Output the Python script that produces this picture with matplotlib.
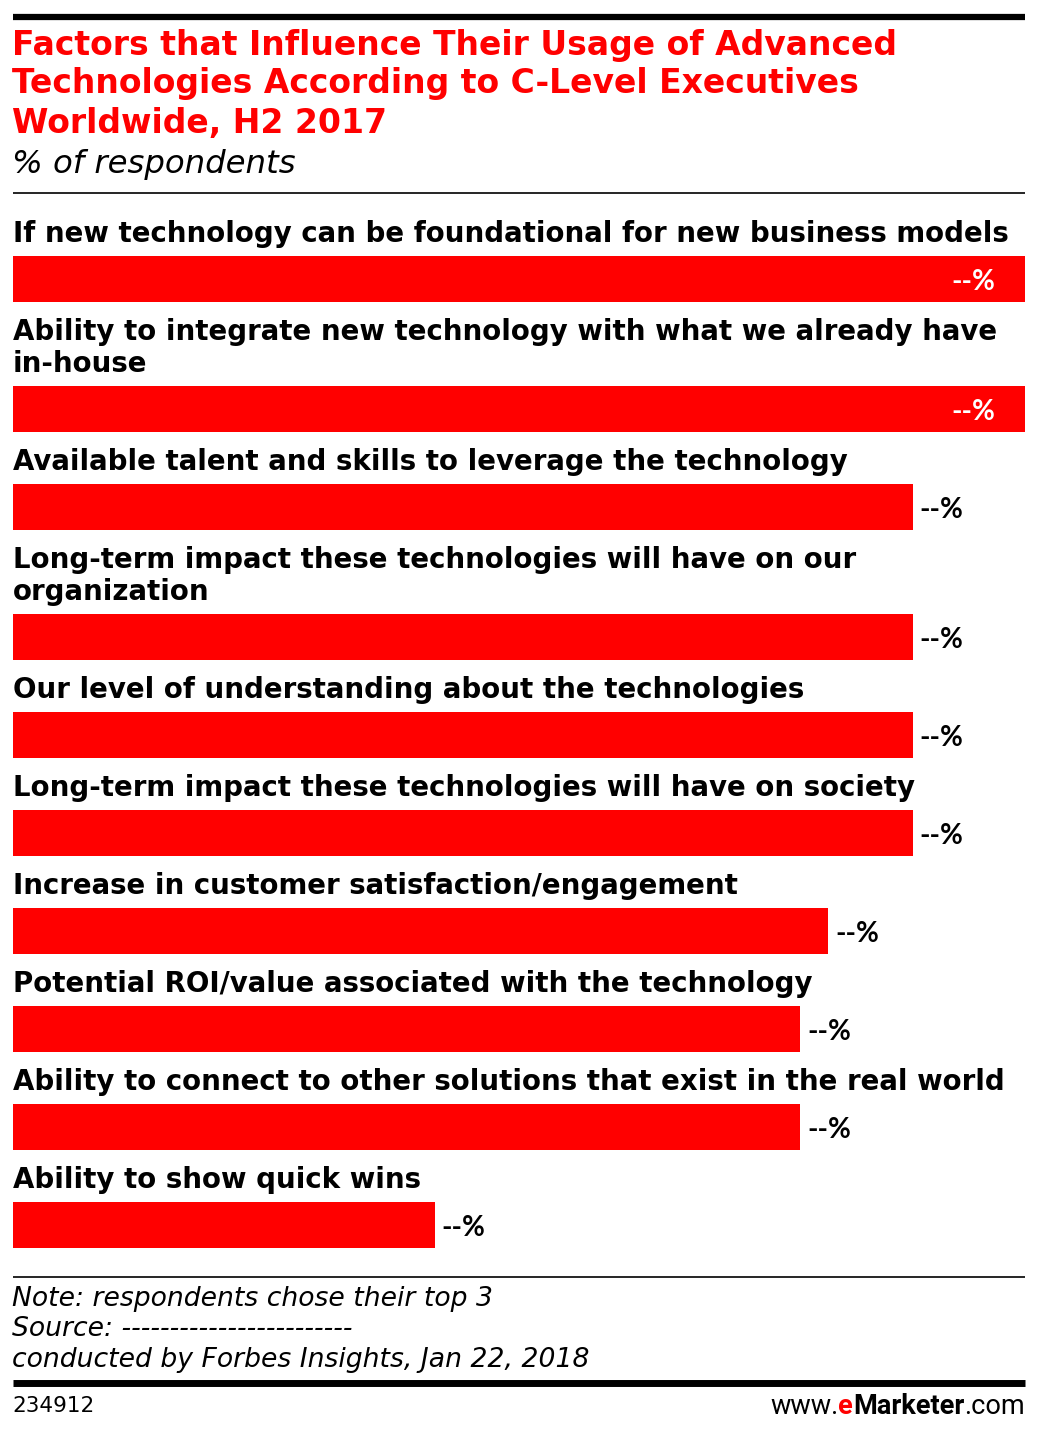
import matplotlib
matplotlib.use("Agg")
import matplotlib.pyplot as plt

# chart data
factors = [
    "If new technology can be foundational for new business models",
    "Ability to integrate new technology with what we already have\nin-house",
    "Available talent and skills to leverage the technology",
    "Long-term impact these technologies will have on our\norganization",
    "Our level of understanding about the technologies",
    "Long-term impact these technologies will have on society",
    "Increase in customer satisfaction/engagement",
    "Potential ROI/value associated with the technology",
    "Ability to connect to other solutions that exist in the real world",
    "Ability to show quick wins",
]
values = [36, 36, 32, 32, 32, 32, 29, 28, 28, 15]
value_labels = ["--%"] * len(values)

title = ("Factors that Influence Their Usage of Advanced\n"
         "Technologies According to C-Level Executives\n"
         "Worldwide, H2 2017")
subtitle = "% of respondents"
notes = ["Note: respondents chose their top 3",
         "Source: ------------------------",
         "conducted by Forbes Insights, Jan 22, 2018"]
chart_id = "234912"

RED = "#ff0000"
W, H = 1038, 1432
BOLD = ["DejaVu Sans"]
LATO = ["Lato", "DejaVu Sans"]
LIGHT = ["DejaVu Sans"]

fig = plt.figure(figsize=(W / 100, H / 100), dpi=100)

def px(x, y):
    return x / W, 1 - y / H

def hline(y, lw):
    fig.add_artist(plt.Line2D([13 / W, 1025 / W], [1 - y / H, 1 - y / H],
                              color="black", lw=lw, solid_capstyle="butt"))

# header
hline(16.5, 4.5)
for i, line in enumerate(title.split("\n")):
    fig.text(*px(12, 45 + i * 39), line, color=RED, fontsize=23.8,
             fontweight="bold", family=BOLD, va="center", ha="left")
fig.text(*px(12, 164), subtitle, fontsize=23.3, style="italic",
         family=LIGHT, va="center", ha="left")
hline(193, 1.2)

# bars: axes spans the bar area horizontally, y in pixel rows
ax = fig.add_axes([13 / W, 0, 1012 / W, 1])
ax.set_xlim(0, max(values))
ax.set_ylim(H, 0)
ax.axis("off")

y = 234
for name, val, lab in zip(factors, values, value_labels):
    lines = name.split("\n")
    for j, ln in enumerate(lines):
        ax.text(0, y + j * 32, ln, fontsize=19.9, fontweight="bold",
                family=BOLD, va="center", ha="left")
    yc = y + (len(lines) - 1) * 32 + 44.5
    ax.barh(yc, val, height=46, left=0, color=RED)
    if val >= 0.95 * max(values):
        ax.annotate(lab, (val, yc), xytext=(-30, -3), textcoords="offset pixels",
                    ha="right", va="center", color="white", fontsize=20,
                    fontweight="bold", family=LATO)
    else:
        ax.annotate(lab, (val, yc), xytext=(7, -3), textcoords="offset pixels",
                    ha="left", va="center", color="black", fontsize=20,
                    fontweight="bold", family=LATO)
    y = yc + 53.5

# footer
hline(1277, 1.2)
for i, ln in enumerate(notes):
    fig.text(*px(12, 1299 + i * 30.5), ln, fontsize=19.2, style="italic",
             family=LIGHT, va="center", ha="left")
hline(1382.5, 5)
fig.text(*px(12, 1406), chart_id, fontsize=15.5, family=LIGHT,
         va="center", ha="left")

# eMarketer logo text, built right to left
parts = [(".com", "normal", "black"), ("Marketer", "bold", "black"),
         ("e", "bold", RED), ("www.", "normal", "black")]
fig.canvas.draw()
r = fig.canvas.get_renderer()
xr = 1025
for txt, wt, col in parts:
    t = fig.text(*px(xr, 1406), txt, fontsize=19.5, fontweight=wt, color=col,
                 family=["Roboto", "DejaVu Sans"], va="center", ha="right")
    xr -= t.get_window_extent(r).width

fig.savefig("out.png", dpi=100)
